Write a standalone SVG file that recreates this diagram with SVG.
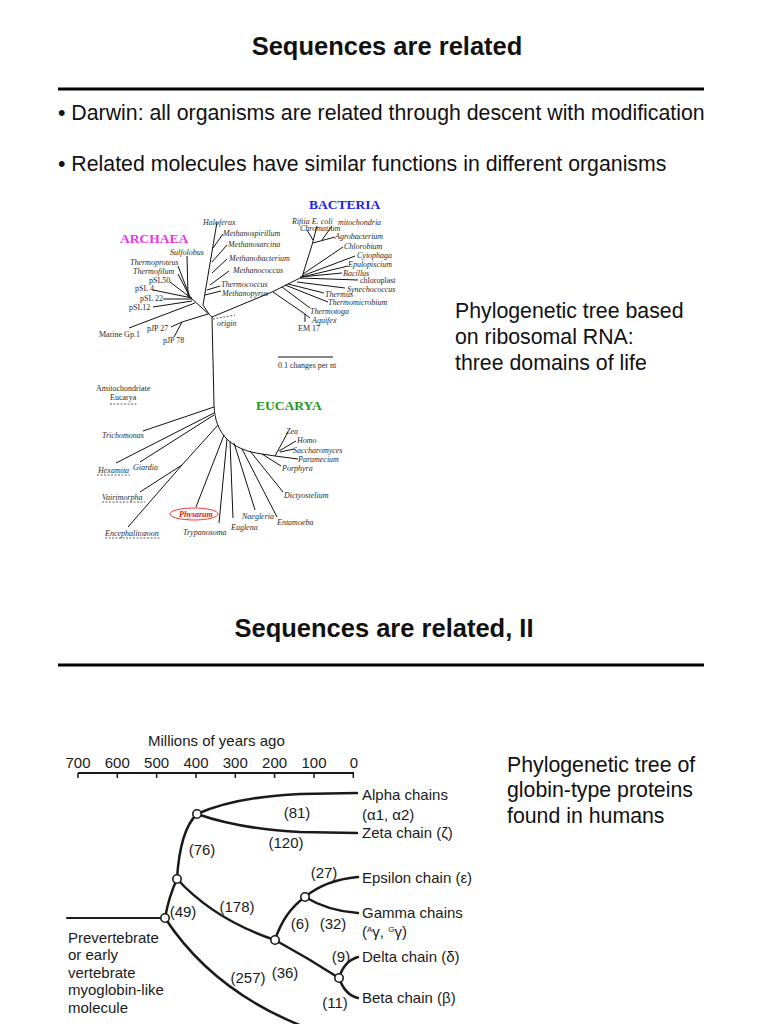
<svg xmlns="http://www.w3.org/2000/svg" width="768" height="1024" viewBox="0 0 768 1024">
<defs>
<style>
.bg{fill:#fff}
.title{font-family:"Liberation Sans",Arial,sans-serif;font-weight:bold;font-size:25.5px;fill:#111;text-anchor:middle}
.body{font-family:"Liberation Sans",Arial,sans-serif;font-size:21.3px;fill:#111}
.rule{stroke:#000;stroke-width:3}
.br{stroke:#111;stroke-width:1;fill:none}
.sp{font-family:"Liberation Serif","Times New Roman",serif;font-style:italic;font-size:8px;fill:#2a2a2a}
.plain{font-family:"Liberation Serif","Times New Roman",serif;font-size:8px;fill:#2a2a2a}
.dom{font-family:"Liberation Serif","Times New Roman",serif;font-weight:bold;font-size:13.5px}
.dash{stroke:#333;stroke-width:0.8;stroke-dasharray:2 1.5}
.gl{font-family:"Liberation Sans",Arial,sans-serif;font-size:15px;fill:#1a1a1a}
.gc{text-anchor:middle}
.edge{stroke:#1a1a1a;stroke-width:2.5;fill:none;stroke-linecap:round}
.nd{fill:#fff;stroke:#1a1a1a;stroke-width:1.6}
</style>
</defs>
<rect class="bg" x="0" y="0" width="768" height="1024"/>

<!-- Slide 1 -->
<g id="slide1-text">
<text class="title" x="387" y="55">Sequences are related</text>
<line class="rule" x1="58" y1="89" x2="704" y2="89"/>
<text class="body" x="58" y="120">• Darwin: all organisms are related through descent with modification</text>
<text class="body" x="58" y="171">• Related molecules have similar functions in different organisms</text>
<text class="body" x="455" y="318">Phylogenetic tree based</text>
<text class="body" x="455" y="344">on ribosomal RNA:</text>
<text class="body" x="455" y="370">three domains of life</text>
</g>

<g id="rrna-tree">
<g id="domain-labels">
<text class="dom" x="309" y="209" fill="#2222ee">BACTERIA</text>
<text class="dom" x="120" y="243" fill="#ee33ee">ARCHAEA</text>
<text class="dom" x="256" y="410" fill="#229922">EUCARYA</text>
</g>

<g id="tree-branches">
<path class="br" d="M212,317 L214,405 C215,435 232,450 262,454 L275,456"/>
<path class="br" d="M212,317 L272,292 L302,277 L312,245"/>
<path class="br" d="M212,317 L191,298"/>
<path class="br" d="M209,314 L203,305 L217,222"/>
<path class="br" d="M188,297 L187,256 M190,297 L178,266 M190,297 L178,274 M191,298 L170,282 M192,298 L153,290 M192,299 L163,299 M192,301 L153,307 M195,303 L129,328"/>
<path class="br" d="M208,314 L182,322 L171,327 M182,322 L174,337"/>
<path class="br" d="M213,248 L223,234 M212,262 L227,245 M212,273 L227,259 M210,285 L229,271 M207,290 L220,286 M205,295 L221,291"/>
<path class="br" d="M273,292 L305,314 L310,318 M305,314 L305,322"/>
<path class="br" d="M282,287 L310,308 M285,285 L328,302 M288,284 L324,293 M297,282 L345,288 M300,278 L358,280 M300,277 L342,273 M302,277 L348,266 M302,276 L355,256 M303,274 L343,247"/>
<path class="br" d="M313,243 L335,237 M322,240 L332,226 M312,245 L317,226 M313,240 L307,230"/>
<path class="br" d="M214,407 L143,431 M214,413 L116,463 M214,415 L140,462 M218,425 L182,465 L140,492 M182,465 L128,527 M224,435 L196,507 M227,439 L219,523 M230,441 L233,518 M234,443 L255,510 M242,449 L277,517 M250,451 L283,492 M262,454 L281,466"/>
<path class="br" d="M275,456 L288,432 M279,451 L296,441 M280,452 L294,449 M275,456 L298,459"/>
<line class="dash" x1="213" y1="319" x2="235" y2="315"/>
<line x1="278" y1="357" x2="333" y2="357" stroke="#111" stroke-width="1.2"/>
</g>

<g id="archaea-labels">
<text class="sp" x="203" y="225">Haloferax</text>
<text class="sp" x="223" y="236">Methanospirillum</text>
<text class="sp" x="228" y="247">Methanosarcina</text>
<text class="sp" x="229" y="261">Methanobacterium</text>
<text class="sp" x="233" y="273">Methanococcus</text>
<text class="sp" x="221" y="287">Thermococcus</text>
<text class="sp" x="222" y="296">Methanopyrus</text>
<text class="sp" x="170" y="255">Sulfolobus</text>
<text class="sp" x="130" y="265">Thermoproteus</text>
<text class="sp" x="133" y="274">Thermofilum</text>
<text class="plain" x="149" y="283">pSL50</text>
<text class="plain" x="135" y="291">pSL 4</text>
<text class="plain" x="140" y="301">pSL 22</text>
<text class="plain" x="129" y="310">pSL12</text>
<text class="plain" x="99" y="337">Marine Gp.1</text>
<text class="plain" x="147" y="331">pJP 27</text>
<text class="plain" x="163" y="343">pJP 78</text>
<text class="sp" x="217" y="326">origin</text>
</g>

<g id="bacteria-labels">
<text class="sp" x="292" y="224">Riftia E. coli</text>
<text class="sp" x="300" y="231">Chromatium</text>
<text class="sp" x="338" y="225">mitochondria</text>
<text class="sp" x="335" y="239">Agrobacterium</text>
<text class="sp" x="344" y="249">Chlorobium</text>
<text class="sp" x="357" y="258">Cytophaga</text>
<text class="sp" x="348" y="267">Epulopiscium</text>
<text class="sp" x="343" y="276">Bacillus</text>
<text class="plain" x="360" y="283">chloroplast</text>
<text class="sp" x="347" y="292">Synechococcus</text>
<text class="sp" x="325" y="297">Thermus</text>
<text class="sp" x="328" y="305">Thermomicrobium</text>
<text class="sp" x="310" y="314">Thermotoga</text>
<text class="sp" x="312" y="323">Aquifex</text>
<text class="plain" x="298" y="331">EM 17</text>
<text class="plain" x="278" y="368">0.1 changes per nt</text>
</g>

<g id="eucarya-labels">
<text class="plain" x="96" y="391">Amitochondriate</text>
<text class="plain" x="110" y="400">Eucarya</text>
<line class="dash" x1="110" y1="404" x2="137" y2="404"/>
<text class="sp" x="102" y="438">Trichomonas</text>
<text class="sp" x="98" y="473">Hexamita</text>
<line class="dash" x1="97" y1="475" x2="130" y2="475"/>
<text class="sp" x="133" y="470">Giardia</text>
<text class="sp" x="102" y="500">Vairimorpha</text>
<line class="dash" x1="102" y1="502" x2="145" y2="502"/>
<text class="sp" x="105" y="536">Encephalitozoon</text>
<line class="dash" x1="105" y1="538" x2="160" y2="538"/>
<ellipse cx="194" cy="514" rx="24" ry="6" fill="none" stroke="#ee2222" stroke-width="0.9"/>
<text class="sp" x="179" y="517" style="fill:#dd1111;font-weight:bold">Physarum</text>
<text class="sp" x="183" y="535">Trypanosoma</text>
<text class="sp" x="231" y="530">Euglena</text>
<text class="sp" x="242" y="519">Naegleria</text>
<text class="sp" x="277" y="525">Entamoeba</text>
<text class="sp" x="284" y="498">Dictyostelium</text>
<text class="sp" x="282" y="471">Porphyra</text>
<text class="sp" x="298" y="462">Paramecium</text>
<text class="sp" x="293" y="453">Saccharomyces</text>
<text class="sp" x="297" y="443">Homo</text>
<text class="sp" x="286" y="434">Zea</text>
</g>
</g>

<!-- Slide 2 -->
<g id="slide2-text">
<text class="title" x="384" y="637">Sequences are related, II</text>
<line class="rule" x1="58" y1="665" x2="704" y2="665"/>
<text class="body" x="507" y="772">Phylogenetic tree of</text>
<text class="body" x="507" y="797">globin-type proteins</text>
<text class="body" x="507" y="823">found in humans</text>
</g>

<g id="time-axis">
<text class="gl" x="148" y="746">Millions of years ago</text>
<line x1="78" y1="773" x2="354" y2="773" stroke="#1a1a1a" stroke-width="2"/>
<path d="M78,773v5M117.3,773v5M156.6,773v5M196,773v5M235.3,773v5M274.6,773v5M314,773v5M353.3,773v5" stroke="#1a1a1a" stroke-width="1.5"/>
<text class="gl gc" x="78" y="768">700</text>
<text class="gl gc" x="117.3" y="768">600</text>
<text class="gl gc" x="156.6" y="768">500</text>
<text class="gl gc" x="196" y="768">400</text>
<text class="gl gc" x="235.3" y="768">300</text>
<text class="gl gc" x="274.6" y="768">200</text>
<text class="gl gc" x="314" y="768">100</text>
<text class="gl gc" x="354" y="768">0</text>
</g>

<g id="globin-connectors">
<path class="edge" d="M67,918 L161,918" style="stroke-width:2"/>
<path class="edge" d="M165,918 Q169,896 177,879"/>
<path class="edge" d="M177,879 Q180,830 197,814"/>
<path class="edge" d="M197,814 Q235,797 300,794 L357,793"/>
<path class="edge" d="M197,814 Q240,829 300,832 L357,833"/>
<path class="edge" d="M177,879 Q215,920 275,940"/>
<path class="edge" d="M275,940 Q284,912 305,897"/>
<path class="edge" d="M305,897 Q325,880 358,877"/>
<path class="edge" d="M305,897 Q328,911 358,913"/>
<path class="edge" d="M275,940 Q308,958 339,978"/>
<path class="edge" d="M339,978 Q344,961 358,957"/>
<path class="edge" d="M339,978 Q345,995 358,998"/>
<path class="edge" d="M165,918 Q212,990 302,1026"/>
<text class="gl gc" x="297" y="818">(81)</text>
<text class="gl gc" x="286" y="848">(120)</text>
<text class="gl gc" x="202" y="855">(76)</text>
<text class="gl gc" x="183" y="917">(49)</text>
<text class="gl gc" x="237" y="912">(178)</text>
<text class="gl gc" x="300" y="929">(6)</text>
<text class="gl gc" x="333" y="929">(32)</text>
<text class="gl gc" x="324" y="878">(27)</text>
<text class="gl gc" x="248" y="983">(257)</text>
<text class="gl gc" x="285" y="978">(36)</text>
<text class="gl gc" x="341" y="962">(9)</text>
<text class="gl gc" x="335" y="1008">(11)</text>
</g>

<g id="node-root"><circle class="nd" cx="165" cy="918" r="4.2"/></g>
<g id="node-49"><circle class="nd" cx="177" cy="879" r="4.2"/></g>
<g id="node-alpha-zeta"><circle class="nd" cx="197" cy="814" r="4.2"/></g>
<g id="node-178"><circle class="nd" cx="275" cy="940" r="4.2"/></g>
<g id="node-epsilon-gamma"><circle class="nd" cx="305" cy="897" r="4.2"/></g>
<g id="node-delta-beta"><circle class="nd" cx="339" cy="978" r="4.2"/></g>

<g id="leaf-alpha"><text class="gl" x="362" y="800">Alpha chains</text><text class="gl" x="362" y="820">(α1, α2)</text></g>
<g id="leaf-zeta"><text class="gl" x="362" y="838">Zeta chain (ζ)</text></g>
<g id="leaf-epsilon"><text class="gl" x="362" y="883">Epsilon chain (ε)</text></g>
<g id="leaf-gamma"><text class="gl" x="362" y="918">Gamma chains</text><text class="gl" x="362" y="937">(<tspan font-size="8" dy="-5">A</tspan><tspan dy="5">γ, </tspan><tspan font-size="8" dy="-5">G</tspan><tspan dy="5">γ)</tspan></text></g>
<g id="leaf-delta"><text class="gl" x="362" y="962">Delta chain (δ)</text></g>
<g id="leaf-beta"><text class="gl" x="362" y="1003">Beta chain (β)</text></g>
<g id="leaf-root"><text class="gl" x="68" y="943">Prevertebrate</text><text class="gl" x="68" y="960">or early</text><text class="gl" x="68" y="978">vertebrate</text><text class="gl" x="68" y="995">myoglobin-like</text><text class="gl" x="68" y="1013">molecule</text></g>
</svg>
